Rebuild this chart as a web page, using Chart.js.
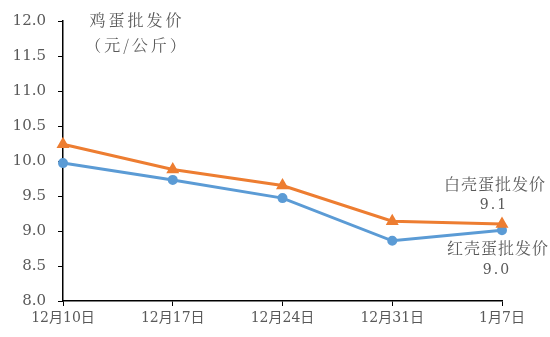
<!DOCTYPE html>
<html>
<head>
<meta charset="utf-8">
<script src="https://cdn.jsdelivr.net/npm/chart.js@4/dist/chart.umd.min.js"></script>
<style>
  html, body { margin: 0; padding: 0; background: #fff; }
  #box { width: 550px; height: 337px; }
</style>
</head>
<body>
<div id="box"><canvas id="eggChart" width="550" height="337"></canvas></div>
<script>
// 数据
const dates = ['12月10日', '12月17日', '12月24日', '12月31日', '1月7日'];
const whiteEgg = [10.24, 9.88, 9.65, 9.14, 9.10];
const redEgg = [9.97, 9.73, 9.47, 8.86, 9.01];
const yTicks = [8.0, 8.5, 9.0, 9.5, 10.0, 10.5, 11.0, 11.5, 12.0];

const txtFont = '"DejaVu Serif", "Noto Sans CJK SC", serif';
const cjkFont = '"Noto Serif CJK SC", "Noto Sans CJK SC", serif';
const gray = '#595959';

// 图中文字标注
const notes = {
    id: 'notes',
    afterDraw(chart) {
        const c = chart.ctx;
        c.save();
        c.fillStyle = gray;
        c.textAlign = 'center';
        c.textBaseline = 'middle';
        c.font = '16px ' + cjkFont;
        c.letterSpacing = '3px';
        c.fillText('鸡蛋批发价', 137, 20);
        c.fillText('（元/公斤）', 137, 45);
        c.letterSpacing = '1px';
        c.fillText('白壳蛋批发价', 495, 184);
        c.fillText('红壳蛋批发价', 498, 248);
        c.font = '14px ' + txtFont;
        c.letterSpacing = '2px';
        c.fillText('9.1', 494, 205);
        c.fillText('9.0', 497, 270);
        c.restore();
    }
};

new Chart(document.getElementById('eggChart').getContext('2d'), {
    type: 'line',
    data: {
        labels: dates,
        datasets: [{
            label: '白壳蛋批发价',
            data: whiteEgg,
            borderColor: '#ED7D31',
            backgroundColor: '#ED7D31',
            borderWidth: 3,
            pointStyle: 'triangle',
            pointRadius: 4.5,
            tension: 0
        }, {
            label: '红壳蛋批发价',
            data: redEgg,
            borderColor: '#5B9BD5',
            backgroundColor: '#5B9BD5',
            borderWidth: 3,
            pointStyle: 'circle',
            pointRadius: 3.5,
            tension: 0
        }]
    },
    options: {
        responsive: false,
        animation: false,
        layout: { padding: { left: 0, right: 48, top: 15, bottom: 0 } },
        plugins: { legend: { display: false }, tooltip: { enabled: false } },
        scales: {
            x: {
                offset: false,
                grid: { drawOnChartArea: false, drawTicks: true, tickLength: 5, color: '#000' },
                border: { color: '#000', width: 1.5 },
                ticks: { color: gray, font: { size: 14, family: txtFont }, padding: 4, maxRotation: 0 },
                afterFit: s => { s.height = 36; }
            },
            y: {
                min: 8, max: 12,
                afterBuildTicks: s => { s.ticks = yTicks.map(v => ({ value: v })); },
                grid: { drawOnChartArea: false, drawTicks: true, tickLength: 5, color: '#000' },
                border: { color: '#000', width: 1.5 },
                ticks: { color: gray, font: { size: 15, family: txtFont }, padding: 12,
                    callback: v => Number(v).toFixed(1) },
                afterFit: s => { s.width = 63; }
            }
        }
    },
    plugins: [notes]
});
</script>
</body>
</html>
